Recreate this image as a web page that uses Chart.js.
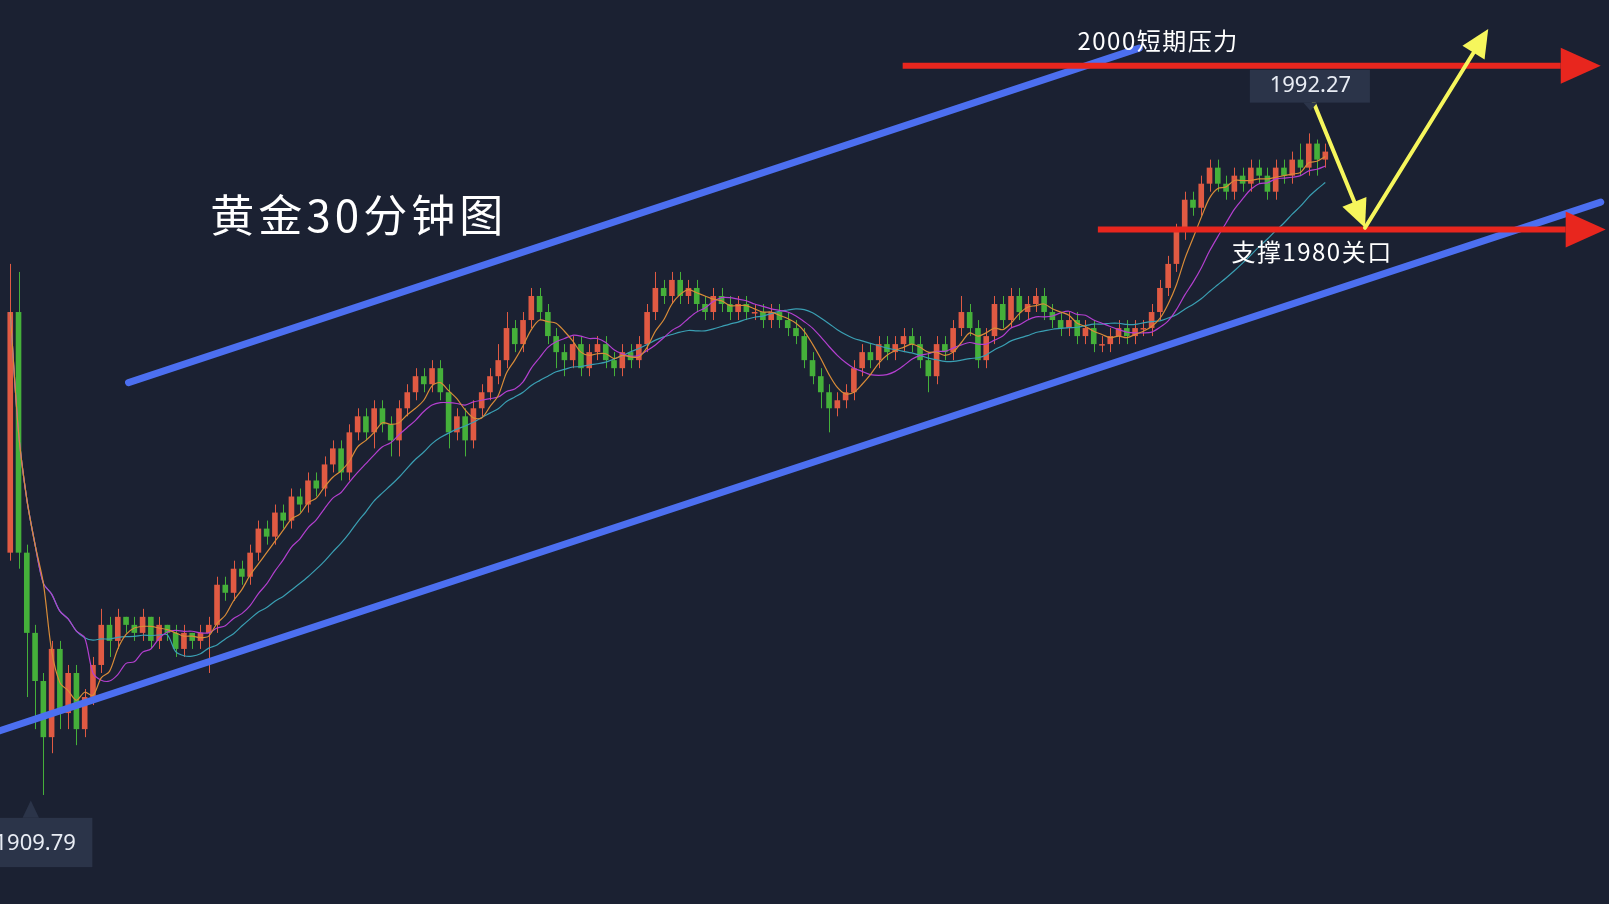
<!DOCTYPE html>
<html><head><meta charset="utf-8">
<script src="https://cdn.jsdelivr.net/npm/chart.js@4/dist/chart.umd.min.js"></script>
<style>html,body{margin:0;padding:0;background:#1b2132;overflow:hidden}#w{width:1609px;height:904px}</style>
</head><body><div id="w"><canvas id="c"></canvas></div>
<script>
const opens=[1940,1970,1940,1930,1924,1917,1928,1920,1925,1918,1922,1926,1931,1929,1932,1931,1930,1932,1929,1931,1930,1928,1930,1929,1930,1931,1936,1935,1938,1937,1940,1943,1942,1945,1944,1947,1946,1949,1948,1951,1953,1950,1955,1957,1955,1958,1956,1954,1958,1960,1962,1961,1963,1960,1955,1957,1954,1958,1960,1962,1964,1968,1966,1969,1972,1970,1967,1965,1964,1966,1963,1965,1966,1964,1963,1965,1964,1966,1970,1973,1972,1974,1972,1973,1971,1970,1972,1971,1970,1971,1970,1970,1969,1970,1969,1968,1967,1964,1962,1960,1958,1959,1960,1963,1965,1964,1966,1965,1966,1967,1966,1964,1962,1966,1965,1968,1970,1968,1964,1967,1971,1969,1972,1970,1971,1972,1970,1969,1968,1969,1967,1968,1966,1966,1967,1968,1967,1968,1968,1970,1973,1976,1980,1984,1983,1986,1988,1986,1985,1987,1986,1988,1987,1985,1988,1987,1989,1988,1991,1989];
const closes=[1970,1940,1930,1924,1917,1928,1920,1925,1918,1922,1926,1931,1929,1932,1931,1930,1932,1929,1931,1930,1928,1930,1929,1930,1931,1936,1935,1938,1937,1940,1943,1942,1945,1944,1947,1946,1949,1948,1951,1953,1950,1955,1957,1955,1958,1956,1954,1958,1960,1962,1961,1963,1960,1955,1957,1954,1958,1960,1962,1964,1968,1966,1969,1972,1970,1967,1965,1964,1966,1963,1965,1966,1964,1963,1965,1964,1966,1970,1973,1972,1974,1972,1973,1971,1970,1972,1971,1970,1971,1970,1970,1969,1970,1969,1968,1967,1964,1962,1960,1958,1959,1960,1963,1965,1964,1966,1965,1966,1967,1966,1964,1962,1966,1965,1968,1970,1968,1964,1967,1971,1969,1972,1970,1971,1972,1970,1969,1968,1969,1967,1968,1966,1966,1967,1968,1967,1968,1968,1970,1973,1976,1980,1984,1983,1986,1988,1986,1985,1987,1986,1988,1987,1985,1988,1987,1989,1988,1991,1989,1990];
const highs=[1976,1975,1941,1931,1925,1929,1929,1926,1926,1923,1927,1933,1932,1933,1932,1932,1933,1932,1932,1931,1931,1931,1930,1931,1932,1937,1937,1939,1939,1941,1944,1944,1946,1946,1948,1948,1950,1950,1952,1954,1954,1956,1958,1958,1959,1959,1957,1959,1961,1963,1963,1964,1964,1961,1958,1958,1959,1961,1963,1966,1970,1969,1970,1973,1973,1971,1968,1966,1967,1967,1966,1967,1967,1965,1966,1966,1967,1971,1975,1974,1975,1975,1974,1974,1972,1973,1973,1972,1972,1972,1971,1971,1971,1971,1970,1969,1968,1965,1963,1961,1960,1961,1964,1966,1966,1967,1967,1967,1968,1968,1967,1965,1967,1967,1969,1972,1971,1969,1968,1972,1972,1973,1973,1972,1973,1973,1971,1970,1970,1970,1969,1969,1967,1968,1969,1969,1969,1969,1971,1974,1977,1981,1985,1985,1987,1989,1989,1987,1988,1988,1989,1989,1988,1989,1989,1990,1991,1992.27,1991.5,1991];
const lows=[1939,1938,1922,1918,1909.79,1915,1918,1918,1916,1917,1921,1925,1927,1928,1930,1929,1929,1928,1928,1929,1927,1927,1928,1928,1925,1930,1934,1934,1936,1936,1939,1941,1941,1943,1943,1945,1945,1947,1947,1950,1949,1949,1954,1954,1953,1955,1952,1952,1957,1959,1960,1960,1959,1953,1954,1952,1953,1957,1959,1961,1963,1965,1965,1968,1969,1966,1963,1962,1963,1962,1962,1964,1963,1962,1962,1963,1963,1965,1969,1971,1971,1971,1971,1970,1969,1969,1970,1969,1969,1969,1969,1968,1968,1968,1967,1966,1963,1961,1958,1955,1957,1958,1959,1962,1963,1963,1964,1964,1965,1965,1963,1960,1961,1964,1964,1967,1967,1963,1963,1966,1968,1968,1969,1969,1970,1969,1968,1967,1967,1966,1966,1965,1965,1965,1966,1966,1966,1967,1967,1969,1972,1975,1979,1982,1982,1985,1985,1984,1984,1985,1985,1986,1984,1984,1986,1986,1987,1987,1987,1988];
const maPeriods=[5,10,20];
const maColors=['#d98c38','#b33fcf','#3a9fb3'];
const upColor='#e05a43', downColor='#45b03a';

function ma(n){return closes.map((c,i)=>{const s=closes.slice(Math.max(0,i-n+1),i+1);return {x:i,y:s.reduce((a,b)=>a+b,0)/s.length};});}

const S=1609/1568;
const candlePlugin={id:'candles',
 beforeDraw(ch){const c=ch.ctx;c.save();c.fillStyle='#1b2132';c.fillRect(0,0,ch.width,ch.height);c.restore();},
 beforeDatasetsDraw(ch){
  const c=ch.ctx,xs=ch.scales.x,ys=ch.scales.y;c.save();
  const w=(xs.getPixelForValue(1)-xs.getPixelForValue(0))*0.68;
  for(let i=0;i<closes.length;i++){
   const x=xs.getPixelForValue(i),col=closes[i]>=opens[i]?upColor:downColor;
   c.strokeStyle=col;c.fillStyle=col;c.lineWidth=1;
   c.beginPath();c.moveTo(Math.round(x)+0.5,ys.getPixelForValue(highs[i]));c.lineTo(Math.round(x)+0.5,ys.getPixelForValue(lows[i]));c.stroke();
   const y1=ys.getPixelForValue(Math.max(opens[i],closes[i])),y2=ys.getPixelForValue(Math.min(opens[i],closes[i]));
   c.fillRect(x-w/2,y1,w,Math.max(1.5,y2-y1));
  }
  c.restore();},
 afterDatasetsDraw(ch){
  const c=ch.ctx,xs=ch.scales.x,ys=ch.scales.y;const P=(i,p)=>[xs.getPixelForValue(i),ys.getPixelForValue(p)];
  c.save();c.lineCap='round';
  function line(a,b,col,lw){c.strokeStyle=col;c.lineWidth=lw;c.beginPath();c.moveTo(...a);c.lineTo(...b);c.stroke();}
  function arrow(a,b,col,lw,hl,hw){const ang=Math.atan2(b[1]-a[1],b[0]-a[0]);
   const bx=b[0]-hl*Math.cos(ang),by=b[1]-hl*Math.sin(ang);
   line(a,[bx,by],col,lw);
   c.fillStyle=col;c.beginPath();c.moveTo(b[0],b[1]);
   c.lineTo(bx+hw*Math.sin(ang),by-hw*Math.cos(ang));c.lineTo(bx-hw*Math.sin(ang),by+hw*Math.cos(ang));c.closePath();c.fill();}
  line(P(14.3,1961.2),P(136.5,2002.9),'#4c6ff0',7);
  line(P(-1.24,1917.8),P(192.3,1983.7),'#4c6ff0',7);
  c.lineCap='butt';
  arrow(P(107.9,2000.7),P(192.3,2000.7),'#e8261e',6,40,18);
  arrow(P(131.5,1980.3),P(192.9,1980.3),'#e8261e',6,40,18);
  c.lineCap='round';
  arrow(P(157.6,1996.1),P(163.8,1980.5),'#f6f65c',4,28,13);
  arrow(P(163.8,1980.5),P(178.7,2005.3),'#f6f65c',4,28,13);
  c.fillStyle='#ffffff';c.textBaseline='middle';c.textAlign='left';
  c.font='44px "Noto Sans CJK SC"';c.letterSpacing='4px';c.fillText('黄金30分钟图',205*S,210*S);
  c.font='24px "Noto Sans CJK SC"';c.letterSpacing='1.5px';c.fillText('2000短期压力',1050*S,40*S);
  c.fillText('支撑1980关口',1200*S,245*S);
  c.letterSpacing='0px';
  c.fillStyle='#2b3449';c.fillRect(1218*S,68*S,117*S,32*S);
  c.beginPath();c.moveTo(1270*S,100*S);c.lineTo(1277*S,108*S);c.lineTo(1284*S,100*S);c.fill();
  c.fillRect(0,797*S,90*S,48*S);
  c.beginPath();c.moveTo(22*S,797*S);c.lineTo(30*S,780*S);c.lineTo(38*S,797*S);c.fill();
  c.fillStyle='#e8ecf4';c.font='22px "Noto Sans"';c.textAlign='center';
  c.fillText('1992.27',1277*S,84*S);
  c.textAlign='right';c.fillText('1909.79',74*S,822*S);
  c.restore();}
};

new Chart(document.getElementById('c'),{type:'line',
 data:{datasets:maPeriods.map((n,k)=>({data:ma(n),borderColor:maColors[k],borderWidth:1.2,pointRadius:0,tension:0.3}))},
 options:{responsive:true,maintainAspectRatio:false,animation:false,layout:{padding:0},
  plugins:{legend:{display:false},tooltip:{enabled:false}},
  scales:{x:{type:'linear',min:-1.24,max:193.3,display:false},y:{min:1896.2,max:2008.9,display:false}}},
 plugins:[candlePlugin]});
</script></body></html>
